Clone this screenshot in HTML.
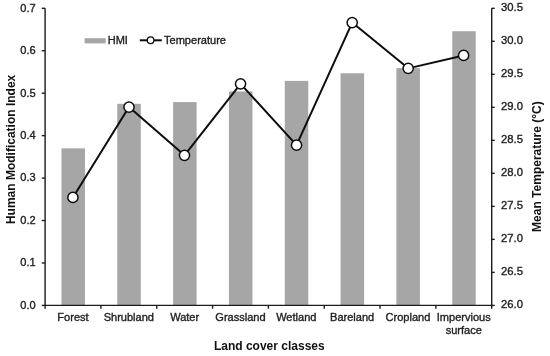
<!DOCTYPE html>
<html><head><meta charset="utf-8"><title>Chart</title>
<style>
html,body{margin:0;padding:0;background:#fff}
svg text{font-family:"Liberation Sans",Arial,sans-serif}
.t{font-size:11.05px;fill:#222;stroke:#222;stroke-width:0.35px}
.b{font-size:12px;font-weight:bold;fill:#111}
</style></head><body>
<svg width="550" height="356" viewBox="0 0 550 356" style="display:block">
<rect width="550" height="356" fill="#fff"/>
<g fill="#a6a6a6">
<rect x="61.46" y="148.36" width="23.5" height="157.04"/>
<rect x="117.29" y="103.80" width="23.5" height="201.60"/>
<rect x="173.11" y="102.10" width="23.5" height="203.30"/>
<rect x="228.94" y="91.49" width="23.5" height="213.91"/>
<rect x="284.76" y="80.88" width="23.5" height="224.52"/>
<rect x="340.59" y="73.24" width="23.5" height="232.16"/>
<rect x="396.41" y="68.14" width="23.5" height="237.26"/>
<rect x="452.24" y="31.22" width="23.5" height="274.18"/>
</g>
<g stroke="#1c1c1c" stroke-width="1.4" fill="none">
<path d="M45.1 8.3V305.4H491.7V8.3"/>
<path d="M41.800000000000004 305.40H45.1"/>
<path d="M41.800000000000004 262.96H45.1"/>
<path d="M41.800000000000004 220.51H45.1"/>
<path d="M41.800000000000004 178.07H45.1"/>
<path d="M41.800000000000004 135.63H45.1"/>
<path d="M41.800000000000004 93.19H45.1"/>
<path d="M41.800000000000004 50.74H45.1"/>
<path d="M41.800000000000004 8.30H45.1"/>
<path d="M491.7 305.40H494.7"/>
<path d="M491.7 272.39H494.7"/>
<path d="M491.7 239.38H494.7"/>
<path d="M491.7 206.37H494.7"/>
<path d="M491.7 173.36H494.7"/>
<path d="M491.7 140.34H494.7"/>
<path d="M491.7 107.33H494.7"/>
<path d="M491.7 74.32H494.7"/>
<path d="M491.7 41.31H494.7"/>
<path d="M491.7 8.30H494.7"/>
<path d="M45.10 305.4V308.7"/>
<path d="M100.92 305.4V308.7"/>
<path d="M156.75 305.4V308.7"/>
<path d="M212.57 305.4V308.7"/>
<path d="M268.40 305.4V308.7"/>
<path d="M324.23 305.4V308.7"/>
<path d="M380.05 305.4V308.7"/>
<path d="M435.88 305.4V308.7"/>
<path d="M491.70 305.4V308.7"/>
</g>
<path d="M72.9 197.45 L129.0 107.05 L184.5 155.3 L240.55 83.8 L296.55 145.2 L352.2 22.55 L408.2 68.35 L463.6 55.45" stroke="#0d0d0d" stroke-width="2" fill="none" stroke-linejoin="round"/>
<circle cx="72.9" cy="197.45" r="5.1" fill="#fff" stroke="#0d0d0d" stroke-width="1.5"/>
<circle cx="129.0" cy="107.05" r="5.1" fill="#fff" stroke="#0d0d0d" stroke-width="1.5"/>
<circle cx="184.5" cy="155.3" r="5.1" fill="#fff" stroke="#0d0d0d" stroke-width="1.5"/>
<circle cx="240.55" cy="83.8" r="5.1" fill="#fff" stroke="#0d0d0d" stroke-width="1.5"/>
<circle cx="296.55" cy="145.2" r="5.1" fill="#fff" stroke="#0d0d0d" stroke-width="1.5"/>
<circle cx="352.2" cy="22.55" r="5.1" fill="#fff" stroke="#0d0d0d" stroke-width="1.5"/>
<circle cx="408.2" cy="68.35" r="5.1" fill="#fff" stroke="#0d0d0d" stroke-width="1.5"/>
<circle cx="463.6" cy="55.45" r="5.1" fill="#fff" stroke="#0d0d0d" stroke-width="1.5"/>
<rect x="84.6" y="38.2" width="21.1" height="5.2" fill="#a6a6a6"/>
<text x="107.7" y="44.4" class="t">HMI</text>
<path d="M139.8 40.3H161.8" stroke="#0d0d0d" stroke-width="2"/>
<circle cx="150.6" cy="40.25" r="3.3" fill="#fff" stroke="#0d0d0d" stroke-width="1.3"/>
<text x="164.0" y="44.4" class="t">Temperature</text>
<text x="35.7" y="308.80" class="t" text-anchor="end">0.0</text>
<text x="35.7" y="266.36" class="t" text-anchor="end">0.1</text>
<text x="35.7" y="223.91" class="t" text-anchor="end">0.2</text>
<text x="35.7" y="181.47" class="t" text-anchor="end">0.3</text>
<text x="35.7" y="139.03" class="t" text-anchor="end">0.4</text>
<text x="35.7" y="96.59" class="t" text-anchor="end">0.5</text>
<text x="35.7" y="54.14" class="t" text-anchor="end">0.6</text>
<text x="35.7" y="11.70" class="t" text-anchor="end">0.7</text>
<text x="501.0" y="308.30" class="t" style="font-size:11.25px">26.0</text>
<text x="501.0" y="275.29" class="t" style="font-size:11.25px">26.5</text>
<text x="501.0" y="242.28" class="t" style="font-size:11.25px">27.0</text>
<text x="501.0" y="209.27" class="t" style="font-size:11.25px">27.5</text>
<text x="501.0" y="176.26" class="t" style="font-size:11.25px">28.0</text>
<text x="501.0" y="143.24" class="t" style="font-size:11.25px">28.5</text>
<text x="501.0" y="110.23" class="t" style="font-size:11.25px">29.0</text>
<text x="501.0" y="77.22" class="t" style="font-size:11.25px">29.5</text>
<text x="501.0" y="44.21" class="t" style="font-size:11.25px">30.0</text>
<text x="501.0" y="11.20" class="t" style="font-size:11.25px">30.5</text>
<text x="73.01" y="321.0" class="t" text-anchor="middle">Forest</text>
<text x="128.84" y="321.0" class="t" text-anchor="middle">Shrubland</text>
<text x="184.66" y="321.0" class="t" text-anchor="middle">Water</text>
<text x="240.49" y="321.0" class="t" text-anchor="middle">Grassland</text>
<text x="296.31" y="321.0" class="t" text-anchor="middle">Wetland</text>
<text x="352.14" y="321.0" class="t" text-anchor="middle">Bareland</text>
<text x="407.96" y="321.0" class="t" text-anchor="middle">Cropland</text>
<text x="463.79" y="321.0" class="t" text-anchor="middle">Impervious</text>
<text x="463.79" y="334.2" class="t" text-anchor="middle">surface</text>
<text x="269.3" y="350.3" class="b" text-anchor="middle">Land cover classes</text>
<text transform="translate(15.15 149.4) rotate(-90)" class="b" text-anchor="middle">Human Modification Index</text>
<text transform="translate(541.1 166.6) rotate(-90)" class="b" text-anchor="middle">Mean Temperature (°C)</text>
</svg>
</body></html>
